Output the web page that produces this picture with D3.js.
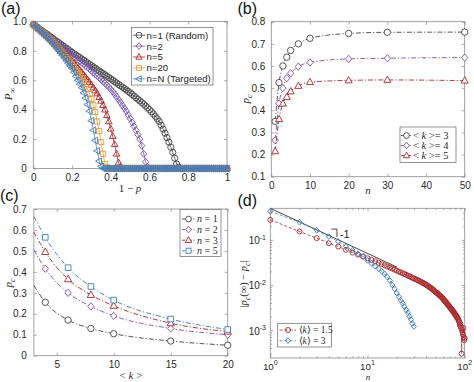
<!DOCTYPE html>
<html>
<head>
<meta charset="utf-8">
<script src="https://cdn.jsdelivr.net/npm/d3@7"></script>
<style>
  body { margin: 0; background: #fff; }
  svg { display: block; font-family: "Liberation Sans", Arial, sans-serif; }
  .tick text { font-size: 10px; fill: #2a2a2a; }
  .math { font-family: "Liberation Serif", "Times New Roman", serif; fill: #2a2a2a; }
  .lab { font-size: 16px; fill: #111; }
</style>
</head>
<body>
<svg id="fig" width="474" height="382"></svg>
<script>
// ---- panel (a): P_inf against 1-p, sampled every 0.01 ----
const oneMinusP = d3.range(0, 101).map(i => i / 100);
const pInfN1 = [0.98,0.97,0.96,0.951,0.942,0.933,0.923,0.914,0.904,0.895,
  0.885,0.876,0.866,0.857,0.847,0.838,0.828,0.819,0.809,0.80,
  0.79,0.781,0.772,0.763,0.754,0.745,0.736,0.727,0.718,0.709,
  0.70,0.691,0.682,0.673,0.664,0.655,0.646,0.637,0.628,0.619,
  0.61,0.601,0.591,0.582,0.572,0.563,0.554,0.544,0.535,0.525,
  0.515,0.504,0.493,0.482,0.471,0.46,0.449,0.437,0.425,0.413,
  0.40,0.386,0.371,0.355,0.338,0.32,0.295,0.268,0.24,0.21,
  0.18,0.145,0.11,0.07,0.03,0.008,0,0,0,0,
  0,0,0,0,0,0,0,0,0,0,
  0,0,0,0,0,0,0,0,0,0,
  0];
const pInfN2 = [0.98,0.97,0.96,0.95,0.94,0.93,0.919,0.908,0.897,0.886,
  0.875,0.865,0.855,0.845,0.835,0.825,0.815,0.805,0.795,0.783,
  0.77,0.76,0.75,0.74,0.73,0.72,0.71,0.699,0.688,0.677,
  0.665,0.653,0.641,0.629,0.617,0.605,0.593,0.58,0.567,0.554,
  0.54,0.523,0.506,0.488,0.469,0.45,0.43,0.41,0.39,0.365,
  0.34,0.314,0.287,0.26,0.23,0.20,0.155,0.10,0.045,0.012,
  0,0,0,0,0,0,0,0,0,0,
  0,0,0,0,0,0,0,0,0,0,
  0,0,0,0,0,0,0,0,0,0,
  0,0,0,0,0,0,0,0,0,0,
  0];
const pInfN5 = [0.98,0.969,0.958,0.947,0.936,0.925,0.913,0.901,0.889,0.877,
  0.865,0.852,0.839,0.826,0.813,0.80,0.786,0.772,0.758,0.744,
  0.73,0.715,0.70,0.685,0.67,0.655,0.638,0.621,0.604,0.587,
  0.57,0.55,0.53,0.51,0.485,0.46,0.43,0.40,0.362,0.32,
  0.27,0.22,0.165,0.10,0.04,0.01,0,0,0,0,
  0,0,0,0,0,0,0,0,0,0,
  0,0,0,0,0,0,0,0,0,0,
  0,0,0,0,0,0,0,0,0,0,
  0,0,0,0,0,0,0,0,0,0,
  0,0,0,0,0,0,0,0,0,0,
  0];
const pInfN20 = [0.98,0.969,0.958,0.947,0.936,0.925,0.912,0.899,0.886,0.873,
  0.86,0.846,0.832,0.818,0.804,0.79,0.774,0.758,0.742,0.726,
  0.71,0.691,0.672,0.653,0.634,0.615,0.59,0.565,0.54,0.508,
  0.475,0.43,0.385,0.32,0.255,0.18,0.10,0.03,0.008,0,
  0,0,0,0,0,0,0,0,0,0,
  0,0,0,0,0,0,0,0,0,0,
  0,0,0,0,0,0,0,0,0,0,
  0,0,0,0,0,0,0,0,0,0,
  0,0,0,0,0,0,0,0,0,0,
  0,0,0,0,0,0,0,0,0,0,
  0];
const pInfTargeted = [0.98,0.968,0.956,0.944,0.932,0.92,0.906,0.892,0.878,0.864,
  0.85,0.834,0.818,0.802,0.786,0.77,0.752,0.734,0.716,0.698,
  0.68,0.654,0.627,0.60,0.575,0.55,0.515,0.48,0.435,0.39,
  0.325,0.26,0.19,0.12,0.05,0.015,0,0,0,0,
  0,0,0,0,0,0,0,0,0,0,
  0,0,0,0,0,0,0,0,0,0,
  0,0,0,0,0,0,0,0,0,0,
  0,0,0,0,0,0,0,0,0,0,
  0,0,0,0,0,0,0,0,0,0,
  0,0,0,0,0,0,0,0,0,0,
  0];
const labelsA = ['n=1 (Random)', 'n=2', 'n=5', 'n=20', 'n=N (Targeted)'];
const ticksA = [0, 0.2, 0.4, 0.6, 0.8, 1];

// ---- panel (b): p_c against n ----
const nB = [1, 2, 3, 4, 5, 7, 10, 20, 30, 50];
const pcK3 = [0.35, 0.525, 0.60, 0.64, 0.67, 0.70, 0.725, 0.747, 0.752, 0.753];
const pcK4 = [0.265, 0.43, 0.50, 0.545, 0.567, 0.597, 0.616, 0.632, 0.635, 0.638];
const pcK5 = [0.215, 0.36, 0.43, 0.46, 0.485, 0.51, 0.527, 0.535, 0.537, 0.534];
const labelsB = ['3', '4', '5'];
const xTicksB = [0, 10, 20, 30, 40, 50];
const yTicksB = [0.1, 0.2, 0.3, 0.4, 0.5, 0.6, 0.7, 0.8];

// ---- panel (c): p_c against <k> ----
const kC = [4, 6, 8, 10, 15, 20];
const pcN1 = [0.255, 0.17, 0.13, 0.105, 0.07, 0.05];
const pcN2 = [0.415, 0.30, 0.235, 0.19, 0.13, 0.10];
const pcN3 = [0.495, 0.365, 0.29, 0.238, 0.155, 0.115];
const pcN5 = [0.565, 0.42, 0.33, 0.265, 0.175, 0.125];
const fitStartK = 3;
const fitStartC = [0.335, 0.505, 0.59, 0.665];
const labelsC = ['1', '2', '3', '5'];
const xTicksC = [5, 10, 15, 20];
const yTicksC = [0, 0.1, 0.2, 0.3, 0.4, 0.5, 0.6, 0.7];

// ---- panel (d): |p_c(inf) - p_c| against n, log-log ----
const nRed = d3.range(1, 101);
const gapK15 = [0.278,0.153,0.109,0.084,0.071,0.06,0.052,0.047,0.043,0.039,
  0.036,0.0335,0.031,0.029,0.0272,0.0256,0.0242,0.023,0.0218,0.0207,
  0.0198,0.019,0.0182,0.0175,0.0168,0.0161,0.0155,0.0149,0.0144,0.0139,
  0.0135,0.0131,0.0127,0.0123,0.0119,0.0115,0.0112,0.0108,0.0105,0.0101,
  0.0098,0.0094,0.0091,0.0088,0.0085,0.0082,0.0079,0.0076,0.0073,0.0070,
  0.0068,0.0066,0.0064,0.0061,0.0059,0.0057,0.0055,0.0053,0.0051,0.0049,
  0.0047,0.0045,0.0043,0.0042,0.0040,0.0038,0.0037,0.0035,0.0034,0.0033,
  0.0031,0.0030,0.0029,0.0028,0.0027,0.0026,0.0025,0.0024,0.0023,0.0022,
  0.0021,0.0021,0.0019,0.0019,0.0018,0.0017,0.0016,0.0015,0.0013,0.0014,
  0.0012,0.0011,0.0003,0.0010,0.0009,0.0008,0.0011,0.0007,0.0006,0.00065];
const nBlue = d3.range(1, 31);
const gapK3 = [0.43,0.245,0.163,0.118,0.092,0.072,0.059,0.049,0.042,0.035,
  0.030,0.026,0.023,0.020,0.0175,0.015,0.0125,0.010,0.0082,0.0066,
  0.0055,0.0046,0.0039,0.0033,0.0028,0.0024,0.0020,0.0017,0.0014,0.0012];
const guideLine = [[1, 0.5], [20, 0.025]];
const slopeMark = { n0: 4.25, n1: 4.85, y0: 0.173, y1: 0.115 };
const labelsD = ['1.5', '3'];

const grey = '#444', purple = '#7652b2', red = '#a8282c', orange = '#e09a38', blue = '#3f7bbf';
const frameCol = '#8a8a8a';

const svg = d3.select('#fig');

const shape = {
  circle: r => `M${-r},0a${r},${r} 0 1,0 ${2 * r},0a${r},${r} 0 1,0 ${-2 * r},0Z`,
  diamond: r => `M0,${-r * 1.15}L${r},0L0,${r * 1.15}L${-r},0Z`,
  square: r => `M${-r * 0.85},${-r * 0.85}h${r * 1.7}v${r * 1.7}h${-r * 1.7}Z`,
  up: r => `M0,${-r * 1.1}L${r},${r * 0.7}L${-r},${r * 0.7}Z`,
  left: r => `M${-r * 1.1},0L${r * 0.7},${-r}L${r * 0.7},${r}Z`
};

// box with inward ticks on all four sides
function axesBox(g, x, y, o) {
  const [xa, xb] = x.range(), [ya, yb] = y.range();
  const tk = 3;
  const ax = g.append('g').attr('color', frameCol);
  ax.append('g').attr('transform', `translate(0,${ya})`)
    .call(d3.axisBottom(x).tickValues(o.xt).tickFormat(o.xf || '').tickSizeInner(-tk).tickSizeOuter(0).tickPadding(o.xpad || 5));
  ax.append('g').attr('transform', `translate(0,${yb})`)
    .call(d3.axisTop(x).tickValues(o.xt).tickFormat('').tickSizeInner(-tk).tickSizeOuter(0));
  ax.append('g').attr('transform', `translate(${xa},0)`)
    .call(d3.axisLeft(y).tickValues(o.yt).tickFormat(o.yf || '').tickSizeInner(-tk).tickSizeOuter(0).tickPadding(o.ypad || 6));
  ax.append('g').attr('transform', `translate(${xb},0)`)
    .call(d3.axisRight(y).tickValues(o.yt).tickFormat('').tickSizeInner(-tk).tickSizeOuter(0));
  if (o.xm) {
    ax.append('g').attr('transform', `translate(0,${ya})`).call(d3.axisBottom(x).tickValues(o.xm).tickFormat('').tickSizeInner(-1.8).tickSizeOuter(0));
    ax.append('g').attr('transform', `translate(0,${yb})`).call(d3.axisTop(x).tickValues(o.xm).tickFormat('').tickSizeInner(-1.8).tickSizeOuter(0));
  }
  if (o.ym) {
    ax.append('g').attr('transform', `translate(${xa},0)`).call(d3.axisLeft(y).tickValues(o.ym).tickFormat('').tickSizeInner(-1.8).tickSizeOuter(0));
    ax.append('g').attr('transform', `translate(${xb},0)`).call(d3.axisRight(y).tickValues(o.ym).tickFormat('').tickSizeInner(-1.8).tickSizeOuter(0));
  }
  ax.selectAll('.domain').remove();
  ax.selectAll('.tick line').attr('stroke-width', 0.7);
  g.append('rect').attr('x', xa).attr('y', yb).attr('width', xb - xa).attr('height', ya - yb)
    .attr('fill', 'none').attr('stroke', frameCol).attr('stroke-width', 0.8);
}

// serif math text; parts: [text, flags] with i = italic, s = subscript
function mathText(g, parts, size) {
  const t = g.append('text').attr('class', 'math').attr('font-size', size || 11);
  let shift = 0;
  parts.forEach(([s, f = '']) => {
    const want = f.includes('s') ? 2.8 : 0;
    const ts = t.append('tspan').text(s).attr('dy', want - shift);
    shift = want;
    if (f.includes('i')) ts.attr('font-style', 'italic');
    if (f.includes('s')) ts.attr('font-size', '0.72em');
  });
  return t;
}

function markers(g, pts, kind, r, color, fill) {
  g.append('g').selectAll('path').data(pts).join('path')
    .attr('transform', d => `translate(${d[0]},${d[1]})`)
    .attr('d', shape[kind](r))
    .attr('fill', fill).attr('stroke', color).attr('stroke-width', 0.9);
}

function legendBox(g, x0, y0, x1, y1) {
  g.append('rect').attr('x', x0).attr('y', y0).attr('width', x1 - x0).attr('height', y1 - y0)
    .attr('fill', '#fff').attr('stroke', '#666').attr('stroke-width', 0.7);
}

const fmt1 = d => d === 0 ? '0' : d3.format('.1f')(d);

// ================= (a) =================
{
  const g = svg.append('g');
  const x = d3.scaleLinear().domain([0, 1]).range([33.3, 227]);
  const y = d3.scaleLinear().domain([0, 1]).range([168.5, 21.5]);
  axesBox(g, x, y, {
    xt: ticksA, yt: ticksA,
    xf: d => d === 0 ? '0' : d === 1 ? '1' : d3.format('.1f')(d),
    yf: d => d === 0 ? '0' : d3.format('.1f')(d),
    xpad: 5, ypad: 6.5
  });
  const series = [
    { v: pInfN1, c: grey, s: 'circle', r: 3.1 },
    { v: pInfN2, c: purple, s: 'diamond', r: 3.1 },
    { v: pInfN5, c: red, s: 'up', r: 3.3 },
    { v: pInfN20, c: orange, s: 'square', r: 3.1 },
    { v: pInfTargeted, c: blue, s: 'left', r: 3.3 }
  ];
  const line = d3.line().x((d, i) => x(oneMinusP[i])).y(d => y(d));
  series.forEach(sr => {
    g.append('path').attr('d', line(sr.v)).attr('fill', 'none').attr('stroke', sr.c).attr('stroke-width', 0.8);
    markers(g, sr.v.map((d, i) => [x(oneMinusP[i]), y(d)]), sr.s, sr.r, sr.c, 'none');
  });
  // legend
  const lg = g.append('g');
  legendBox(lg, 131.5, 27.5, 213, 85);
  series.forEach((sr, i) => {
    const yy = 35.2 + i * 10.9;
    lg.append('line').attr('x1', 133).attr('x2', 145).attr('y1', yy).attr('y2', yy).attr('stroke', sr.c).attr('stroke-width', 0.8);
    markers(lg, [[139, yy]], sr.s, sr.r * 0.95, sr.c, 'none');
    lg.append('text').attr('x', 146.5).attr('y', yy + 3.4).attr('font-size', 9.6).attr('fill', '#222').text(labelsA[i]);
  });
  mathText(g, [['P', 'i'], ['∞', 's']], 11).attr('transform', 'translate(12,94) rotate(-90)').attr('text-anchor', 'middle');
  mathText(g, [['1 − '], ['p', 'i']], 11).attr('x', 130).attr('y', 192).attr('text-anchor', 'middle');
  g.append('text').attr('class', 'lab').attr('x', 1).attr('y', 13.5).text('(a)');
}

// ================= (b) =================
{
  const g = svg.append('g');
  const x = d3.scaleLinear().domain([0, 50]).range([271.3, 464.7]);
  const y = d3.scaleLinear().domain([0.1, 0.8]).range([176.7, 21.7]);
  axesBox(g, x, y, { xt: xTicksB, yt: yTicksB, xf: d => d, yf: fmt1, xpad: 5, ypad: 6 });
  const series = [
    { v: pcK3, c: grey, s: 'circle', r: 3.2 },
    { v: pcK4, c: purple, s: 'diamond', r: 3.2 },
    { v: pcK5, c: red, s: 'up', r: 3.5 }
  ];
  const line = d3.line().curve(d3.curveMonotoneX).x(d => x(d[0])).y(d => y(d[1]));
  series.forEach(sr => {
    const pts = nB.map((n, i) => [n, sr.v[i]]);
    g.append('path').attr('d', line(pts)).attr('fill', 'none').attr('stroke', sr.c)
      .attr('stroke-width', 0.9).attr('stroke-dasharray', '5,2,1.2,2');
    markers(g, pts.map(d => [x(d[0]), y(d[1])]), sr.s, sr.r, sr.c, '#fff');
  });
  const lg = g.append('g');
  legendBox(lg, 400, 127, 456, 162.5);
  series.forEach((sr, i) => {
    const yy = 135.5 + i * 10;
    lg.append('line').attr('x1', 401).attr('x2', 412).attr('y1', yy).attr('y2', yy).attr('stroke', sr.c)
      .attr('stroke-width', 0.9).attr('stroke-dasharray', '3,1.5,1,1.5');
    markers(lg, [[406.5, yy]], sr.s, sr.r * 0.9, sr.c, '#fff');
    mathText(lg, [['< '], ['k', 'i'], [' >= ' + labelsB[i]]], 10.5).attr('x', 413).attr('y', yy + 3.5);
  });
  mathText(g, [['p', 'i'], ['c', 'si']], 11).attr('transform', 'translate(249,99) rotate(-90)').attr('text-anchor', 'middle');
  mathText(g, [['n', 'i']], 11).attr('x', 368).attr('y', 194).attr('text-anchor', 'middle');
  g.append('text').attr('class', 'lab').attr('x', 237.5).attr('y', 14).text('(b)');
}

// ================= (c) =================
{
  const g = svg.append('g');
  const x = d3.scaleLinear().domain([3, 20]).range([33.9, 227.7]);
  const y = d3.scaleLinear().domain([0, 0.7]).range([355.7, 209]);
  axesBox(g, x, y, { xt: xTicksC, yt: yTicksC, xf: d => d, yf: fmt1, xpad: 5, ypad: 7 });
  const series = [
    { v: pcN1, c: grey, s: 'circle', r: 3.2 },
    { v: pcN2, c: purple, s: 'diamond', r: 3.2 },
    { v: pcN3, c: red, s: 'up', r: 3.6 },
    { v: pcN5, c: blue, s: 'square', r: 3.3 }
  ];
  const line = d3.line().curve(d3.curveMonotoneX).x(d => x(d[0])).y(d => y(d[1]));
  series.forEach((sr, j) => {
    const pts = kC.map((k, i) => [k, sr.v[i]]);
    const fit = [[fitStartK, fitStartC[j]]].concat(pts);
    g.append('path').attr('d', line(fit)).attr('fill', 'none').attr('stroke', sr.c)
      .attr('stroke-width', 0.9).attr('stroke-dasharray', '5,2,1.2,2');
    markers(g, pts.map(d => [x(d[0]), y(d[1])]), sr.s, sr.r, sr.c, '#fff');
  });
  const lg = g.append('g');
  legendBox(lg, 180, 209.5, 221, 256.5);
  series.forEach((sr, i) => {
    const yy = 219 + i * 10.6;
    lg.append('line').attr('x1', 182).attr('x2', 195).attr('y1', yy).attr('y2', yy).attr('stroke', sr.c)
      .attr('stroke-width', 0.9).attr('stroke-dasharray', '3,1.5,1,1.5');
    markers(lg, [[188.5, yy]], sr.s, sr.r * 0.9, sr.c, '#fff');
    mathText(lg, [['n', 'i'], [' = ' + labelsC[i]]], 10).attr('x', 197).attr('y', yy + 3.4);
  });
  mathText(g, [['p', 'i'], ['c', 'si']], 11).attr('transform', 'translate(12,283) rotate(-90)').attr('text-anchor', 'middle');
  mathText(g, [['< '], ['k', 'i'], [' >']], 11).attr('x', 131).attr('y', 379).attr('text-anchor', 'middle');
  g.append('text').attr('class', 'lab').attr('x', 0).attr('y', 200.5).attr('font-size', 15).text('(c)');
}

// ================= (d) =================
{
  const g = svg.append('g');
  const x = d3.scaleLog().domain([1, 100]).range([270.3, 464.7]);
  const y = d3.scaleLog().domain([2.4e-4, 0.5]).range([358, 208.3]);
  const xMajor = [1, 10, 100], yMajor = [1e-3, 1e-2, 1e-1];
  const xMinor = [2, 3, 4, 5, 6, 7, 8, 9, 20, 30, 40, 50, 60, 70, 80, 90];
  const yMinor = [3e-4, 4e-4, 5e-4, 6e-4, 7e-4, 8e-4, 9e-4, 2e-3, 3e-3, 4e-3, 5e-3, 6e-3, 7e-3, 8e-3, 9e-3,
    2e-2, 3e-2, 4e-2, 5e-2, 6e-2, 7e-2, 8e-2, 9e-2, 0.2, 0.3, 0.4];
  axesBox(g, x, y, { xt: xMajor, yt: yMajor, xm: xMinor, ym: yMinor });
  // power-of-ten tick labels
  xMajor.forEach(v => {
    const t = g.append('text').attr('x', x(v)).attr('y', 369.5).attr('text-anchor', 'middle').attr('font-size', 9.8).attr('fill', '#2a2a2a');
    t.append('tspan').text('10');
    t.append('tspan').attr('dy', -4.5).attr('font-size', 7).text(Math.round(Math.log10(v)));
  });
  yMajor.forEach(v => {
    const t = g.append('text').attr('x', 266).attr('y', y(v) + 4.5).attr('text-anchor', 'end').attr('font-size', 10).attr('fill', '#2a2a2a');
    t.append('tspan').text('10');
    t.append('tspan').attr('dy', -4.5).attr('font-size', 7).text('-' + Math.round(-Math.log10(v)));
  });
  // slope -1 guide
  g.append('line').attr('x1', x(guideLine[0][0])).attr('y1', y(guideLine[0][1]))
    .attr('x2', x(guideLine[1][0])).attr('y2', y(guideLine[1][1])).attr('stroke', '#333').attr('stroke-width', 0.9);
  g.append('path').attr('fill', 'none').attr('stroke', '#333').attr('stroke-width', 0.9)
    .attr('d', `M${x(slopeMark.n0)},${y(slopeMark.y0)}H${x(slopeMark.n1)}V${y(slopeMark.y1)}`);
  g.append('text').attr('x', x(slopeMark.n1) + 3).attr('y', y(slopeMark.y1) + 1).attr('font-size', 11).attr('fill', '#222').text('-1');

  const series = [
    { n: nRed, v: gapK15, c: red, s: 'circle', r: 2.5 },
    { n: nBlue, v: gapK3, c: blue, s: 'diamond', r: 2.5 }
  ];
  const line = d3.line().x(d => x(d[0])).y(d => y(d[1]));
  series.forEach(sr => {
    const pts = sr.n.map((n, i) => [n, sr.v[i]]);
    g.append('path').attr('d', line(pts)).attr('fill', 'none').attr('stroke', sr.c)
      .attr('stroke-width', 0.8).attr('stroke-dasharray', '3,2');
    markers(g, pts.map(d => [x(d[0]), y(d[1])]), sr.s, sr.r, sr.c, 'none');
  });
  const lg = g.append('g');
  legendBox(lg, 277.7, 323.3, 331.5, 347);
  series.forEach((sr, i) => {
    const yy = 330 + i * 10.7;
    lg.append('line').attr('x1', 279.5).attr('x2', 296).attr('y1', yy).attr('y2', yy).attr('stroke', sr.c)
      .attr('stroke-width', 0.8).attr('stroke-dasharray', '3,2');
    markers(lg, [[288, yy]], sr.s, sr.r, sr.c, 'none');
    mathText(lg, [['⟨'], ['k', 'i'], ['⟩ = ' + labelsD[i]]], 9.5).attr('x', 298.5).attr('y', yy + 3.3);
  });
  mathText(g, [['|'], ['p', 'i'], ['c', 'si'], ['(∞) − '], ['p', 'i'], ['c', 'si'], ['|']], 10.5)
    .attr('transform', 'translate(247,284) rotate(-90)').attr('text-anchor', 'middle');
  mathText(g, [['n', 'i']], 9).attr('x', 368).attr('y', 379.8).attr('text-anchor', 'middle');
  g.append('text').attr('class', 'lab').attr('x', 237.5).attr('y', 205.5).text('(d)');
}
</script>
</body>
</html>
